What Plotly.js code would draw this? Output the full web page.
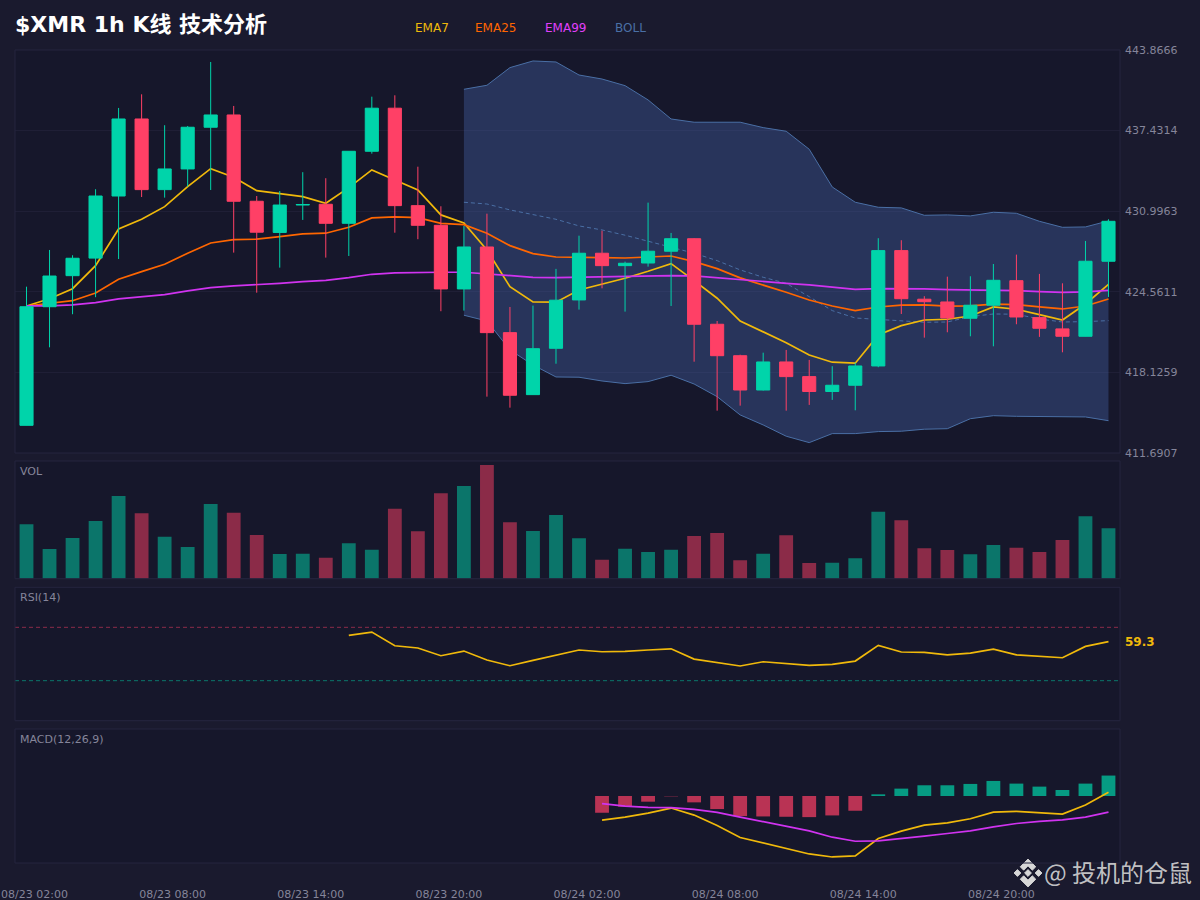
<!DOCTYPE html>
<html>
<head>
<meta charset="utf-8">
<script src="https://cdn.plot.ly/plotly-3.0.1.min.js"></script>
<style>
  html, body { margin: 0; padding: 0; background: #1a1a2e; }
  #chart { width: 1200px; height: 900px; }
</style>
</head>
<body>
<div id="chart"></div>
<script>
/* ── data ── */

const TIME_TICKS = [0, 6, 12, 18, 24, 30, 36, 42];
const TIME_LABELS = ['08/23 02:00', '08/23 08:00', '08/23 14:00', '08/23 20:00',
                     '08/24 02:00', '08/24 08:00', '08/24 14:00', '08/24 20:00'];
const PRICE_TICKS = [443.8666, 437.4314, 430.9963, 424.5611, 418.1259, 411.6907];

const opens = [413.90, 423.37, 425.85, 427.25, 432.21, 438.36, 432.72, 434.37, 437.70, 438.68, 431.79, 429.30,
               431.49, 431.55, 430.03, 435.78, 439.22, 431.44, 429.87, 424.79, 428.14, 421.30, 416.35, 420.05,
               423.91, 427.64, 426.65, 426.86, 427.80, 428.80, 421.97, 419.46, 416.72, 418.96, 417.79, 416.60,
               417.10, 418.64, 427.85, 423.97, 423.75, 422.45, 423.49, 425.45, 422.50, 421.60, 421.01, 427.00];
const highs = [424.97, 427.90, 427.48, 432.75, 439.24, 440.33, 437.86, 437.80, 442.91, 439.40, 432.21, 432.61,
               434.11, 433.63, 435.80, 440.14, 440.25, 434.55, 431.39, 429.82, 430.80, 423.35, 423.46, 426.39,
               429.04, 429.44, 426.97, 431.68, 429.26, 428.85, 422.23, 419.54, 419.70, 419.92, 419.12, 418.62,
               418.90, 428.84, 428.68, 424.21, 425.77, 425.80, 426.78, 427.53, 425.99, 425.24, 428.62, 430.35];
const lows = [413.89, 420.13, 422.77, 424.13, 427.18, 432.13, 432.08, 432.96, 432.69, 427.69, 424.49, 426.49,
              430.30, 427.29, 427.42, 435.59, 429.28, 428.76, 423.01, 423.06, 416.19, 415.31, 416.33, 418.82,
              423.14, 424.84, 422.98, 426.57, 423.43, 418.98, 415.07, 415.47, 416.68, 415.07, 415.53, 415.93,
              415.10, 418.54, 422.79, 420.90, 421.33, 421.01, 420.21, 421.97, 420.96, 419.73, 421.00, 424.15];
const closes = [423.37, 425.82, 427.24, 432.21, 438.36, 432.72, 434.37, 437.70, 438.68, 431.79, 429.32, 431.49,
                431.53, 430.03, 435.78, 439.22, 431.44, 429.87, 424.79, 428.14, 421.30, 416.30, 420.02, 423.89,
                427.64, 426.65, 426.84, 427.80, 428.80, 421.97, 419.46, 416.72, 418.96, 417.79, 416.60, 417.10,
                418.64, 427.85, 424.01, 423.77, 422.47, 423.49, 425.48, 422.55, 421.65, 421.01, 427.00, 430.19];

const ema7 = [423.43, 424.01, 424.81, 426.65, 429.58, 430.35, 431.36, 432.96, 434.39, 433.71, 432.64, 432.40,
              432.16, 431.63, 432.88, 434.29, 433.49, 432.69, 430.70, 430.06, 427.90, 424.97, 423.75, 423.73,
              424.71, 425.19, 425.64, 426.20, 426.81, 425.45, 424.05, 422.23, 421.38, 420.50, 419.52, 418.94,
              418.86, 421.12, 421.86, 422.31, 422.37, 422.63, 423.35, 423.17, 422.74, 422.31, 423.59, 425.16];
const ema25 = [423.43, 423.65, 423.85, 424.47, 425.56, 426.17, 426.76, 427.64, 428.46, 428.72, 428.76, 428.96,
               429.18, 429.24, 429.71, 430.46, 430.54, 430.48, 430.03, 429.92, 429.24, 428.25, 427.61, 427.34,
               427.34, 427.29, 427.26, 427.32, 427.42, 426.97, 426.41, 425.67, 425.11, 424.52, 423.91, 423.43,
               423.06, 423.35, 423.49, 423.51, 423.41, 423.43, 423.57, 423.53, 423.35, 423.19, 423.43, 423.99];
const ema99 = [423.43, 423.43, 423.51, 423.69, 423.99, 424.15, 424.33, 424.63, 424.89, 425.03, 425.11, 425.24,
               425.37, 425.48, 425.69, 425.96, 426.07, 426.12, 426.12, 426.12, 425.99, 425.83, 425.72, 425.69,
               425.72, 425.75, 425.75, 425.83, 425.85, 425.83, 425.67, 425.51, 425.37, 425.24, 425.11, 424.92,
               424.76, 424.81, 424.81, 424.79, 424.73, 424.71, 424.71, 424.65, 424.57, 424.52, 424.55, 424.68];

// bollinger bands start at candle 19
const bollUpper = [440.73, 441.05, 442.46, 442.99, 442.91, 441.87, 441.55, 441.02, 439.88, 438.36, 438.10, 438.12,
                   438.10, 437.67, 437.38, 435.94, 432.93, 431.71, 431.31, 431.26, 430.67, 430.70, 430.62, 430.91,
                   430.83, 430.19, 429.71, 429.74, 430.22];
const bollMid = [431.71, 431.57, 431.10, 430.72, 430.35, 429.82, 429.50, 429.08, 428.60, 428.17, 427.64, 427.05,
                 426.31, 425.72, 425.24, 424.17, 423.06, 422.47, 422.37, 422.26, 422.13, 422.15, 422.58, 422.79,
                 422.77, 422.39, 422.15, 422.18, 422.26];
const bollLower = [422.69, 422.23, 419.92, 418.72, 417.76, 417.74, 417.44, 417.23, 417.39, 417.90, 417.20, 416.19,
                   414.73, 413.93, 413.03, 412.52, 413.24, 413.24, 413.40, 413.43, 413.59, 413.63, 414.43, 414.67,
                   414.62, 414.62, 414.59, 414.57, 414.27];

const volumes = [163, 89, 122, 173, 248, 196, 126, 95, 224, 198, 131, 74,
                 75, 63, 106, 87, 210, 142, 256, 278, 341, 169, 143, 191,
                 121, 57, 90, 80, 87, 128, 137, 55, 75, 130, 47, 48,
                 61, 201, 175, 91, 86, 73, 101, 93, 80, 116, 187, 151];

// rsi starts at candle 14
const rsi = [63.9, 66.4, 56.2, 54.5, 48.7, 52.2, 45.5, 41.2, 45.2, 49.2, 53.0, 51.7,
             52.0, 53.0, 53.9, 46.2, 43.7, 41.0, 44.2, 43.0, 41.5, 42.2, 44.7, 56.5,
             51.5, 51.2, 49.4, 50.7, 53.7, 49.4, 48.2, 47.2, 55.7, 59.3];
const RSI_LEVELS = [70, 30];

// macd starts at candle 25
const macdHist = [-0.50, -0.32, -0.17, -0.01, -0.19, -0.39, -0.60, -0.61, -0.62, -0.63, -0.58, -0.44,
                  0.05, 0.22, 0.32, 0.32, 0.36, 0.45, 0.37, 0.28, 0.18, 0.37, 0.61];
const macdLine = [-0.72, -0.63, -0.51, -0.36, -0.57, -0.88, -1.24, -1.40, -1.56, -1.73, -1.82, -1.79,
                  -1.27, -1.05, -0.87, -0.80, -0.68, -0.48, -0.46, -0.49, -0.54, -0.27, 0.11];
const macdSignal = [-0.23, -0.30, -0.34, -0.35, -0.40, -0.49, -0.63, -0.76, -0.90, -1.04, -1.23, -1.35,
                    -1.34, -1.28, -1.20, -1.12, -1.04, -0.92, -0.82, -0.76, -0.71, -0.63, -0.48];

/* ── style ── */

const BG = '#1a1a2e';
const PANEL_BG = '#16172b';
const BORDER = '#25253f';
const GRID = '#1f1f36';
const TEXT = '#85859a';
const UP = '#00d4aa';
const DOWN = '#ff4066';
const YELLOW = '#f0b90b';
const ORANGE = '#ff6600';
const PURPLE = '#d033f0';
const BOLL = '#4a6fa5';
const FONT = '"DejaVu Sans", "Noto Sans CJK SC", sans-serif';

const LOGO_SVG = '<svg xmlns="http://www.w3.org/2000/svg" viewBox="0 0 100 100" fill="#d7d7d7" stroke="#d7d7d7" stroke-width="3">' +
  '<polygon points="50,5 75,30 64,41 50,27 36,41 25,30"/>' +
  '<polygon points="50,95 75,70 64,59 50,73 36,59 25,70"/>' +
  '<polygon points="5,50 16,39 27,50 16,61"/>' +
  '<polygon points="95,50 84,39 73,50 84,61"/>' +
  '<polygon points="50,39 61,50 50,61 39,50"/></svg>';

// panel edges in page pixels -> fraction of the 813px plot area (y 50..863)
function yDomain(top, bottom) {
  return [(863 - bottom) / 813, (863 - top) / 813];
}

const idx = opens.map((_, i) => i);
const isUp = opens.map((o, i) => closes[i] >= o);

const lineTrace = (x, y, color, yaxis = 'y', width = 1.7, dash = 'solid') => ({
  type: 'scatter', mode: 'lines', x, y, yaxis, hoverinfo: 'skip',
  line: { color, width, dash },
});

const bollX = idx.slice(19);
const rsiX = idx.slice(14);
const macdX = idx.slice(25);

const traces = [
  lineTrace(bollX, bollUpper, BOLL, 'y', 1),
  Object.assign(lineTrace(bollX, bollLower, BOLL, 'y', 1), {
    fill: 'tonexty', fillcolor: 'rgba(72,100,170,0.38)',
  }),
  lineTrace(bollX, bollMid, BOLL, 'y', 1, '4px,3px'),
  lineTrace(idx, ema7, YELLOW),
  lineTrace(idx, ema25, ORANGE),
  lineTrace(idx, ema99, PURPLE),
  {
    type: 'candlestick', x: idx, open: opens, high: highs, low: lows, close: closes,
    yaxis: 'y5', hoverinfo: 'skip',
    increasing: { line: { color: UP, width: 1 }, fillcolor: UP },
    decreasing: { line: { color: DOWN, width: 1 }, fillcolor: DOWN },
  },
  {
    type: 'bar', x: idx, y: volumes, yaxis: 'y2', width: 0.6,
    marker: { color: isUp.map(u => u ? UP : DOWN), opacity: 0.5, line: { width: 0 } },
    hoverinfo: 'skip',
  },
  lineTrace(rsiX, rsi, YELLOW, 'y3'),
  {
    type: 'bar', x: macdX, y: macdHist, yaxis: 'y4', width: 0.6,
    marker: { color: macdHist.map(v => v >= 0 ? UP : DOWN), opacity: 0.7, line: { width: 0 } },
    hoverinfo: 'skip',
  },
  lineTrace(macdX, macdLine, YELLOW, 'y4'),
  lineTrace(macdX, macdSignal, PURPLE, 'y4'),
];

const panelBorder = yref => ({
  type: 'rect', xref: 'x domain', yref: yref + ' domain', x0: 0, x1: 1, y0: 0, y1: 1,
  line: { color: BORDER, width: 1 }, layer: 'above',
});

const rsiLevel = (level, color) => ({
  type: 'line', xref: 'x domain', x0: 0, x1: 1, yref: 'y3', y0: level, y1: level,
  line: { color, width: 1, dash: '4px,3px' }, opacity: 0.5, layer: 'below',
});

const panelLabel = (text, yref) => ({
  text, xref: 'x domain', yref: yref + ' domain', x: 0, y: 1, xshift: 3, yshift: -10,
  xanchor: 'left', yanchor: 'middle', showarrow: false,
  font: { size: 11, color: TEXT },
});

const legendLabel = (text, x, color) => ({
  text, xref: 'paper', yref: 'paper', x: (x - 15) / 1105, y: (863 - 28) / 813,
  xanchor: 'left', yanchor: 'middle', showarrow: false,
  font: { size: 12, color },
});

const hiddenY = { showgrid: false, zeroline: false, showticklabels: false, ticks: '' };
const priceRange = [PRICE_TICKS[5], PRICE_TICKS[0]];

const layout = {
  width: 1200, height: 900,
  paper_bgcolor: BG,
  plot_bgcolor: PANEL_BG,
  margin: { t: 50, b: 37, l: 15, r: 80, pad: 0 },
  font: { family: FONT, color: TEXT, size: 11 },
  showlegend: false,
  boxgap: 0.43,
  boxgroupgap: 0,
  barmode: 'overlay',
  title: {
    text: '<b>$XMR 1h K线 技术分析</b>',
    x: 0, xanchor: 'left', xref: 'paper',
    y: 1 - 24 / 900, yanchor: 'middle',
    font: { size: 22, color: '#ffffff', family: FONT },
  },
  xaxis: {
    anchor: 'y4', domain: [0, 1], range: [-0.5, 47.5],
    rangeslider: { visible: false },
    showgrid: false, zeroline: false, showline: false, ticks: '',
    tickvals: TIME_TICKS, ticktext: TIME_LABELS,
    tickangle: 0,
    ticklabelstandoff: 23, ticklabelshift: 8,
    tickfont: { size: 11, color: TEXT },
  },
  yaxis: {
    domain: yDomain(50, 453), range: priceRange, side: 'right',
    tickvals: PRICE_TICKS, tickformat: '.4f',
    gridcolor: GRID, gridwidth: 1, zeroline: false, ticks: '',
    ticklabelstandoff: 4,
    tickfont: { size: 11, color: TEXT },
  },
  yaxis5: Object.assign({ overlaying: 'y', range: priceRange, side: 'right' }, hiddenY),
  yaxis2: Object.assign({ domain: yDomain(461, 578.7), range: [0, 353] }, hiddenY),
  yaxis3: Object.assign({ domain: yDomain(587.3, 720.7), range: [0, 100] }, hiddenY),
  yaxis4: Object.assign({ domain: yDomain(729, 863), range: [-2, 2] }, hiddenY),
  shapes: [
    rsiLevel(RSI_LEVELS[0], DOWN),
    rsiLevel(RSI_LEVELS[1], UP),
    panelBorder('y'), panelBorder('y2'), panelBorder('y3'), panelBorder('y4'),
  ],
  images: [{
    source: 'data:image/svg+xml;charset=utf-8,' + encodeURIComponent(LOGO_SVG),
    xref: 'paper', yref: 'paper', x: (1028 - 15) / 1105, y: (863 - 873) / 813,
    sizex: 31 / 1105, sizey: 31 / 813, xanchor: 'center', yanchor: 'middle',
    sizing: 'stretch', layer: 'above',
  }],
  annotations: [
    legendLabel('EMA7', 413, YELLOW),
    legendLabel('EMA25', 473, ORANGE),
    legendLabel('EMA99', 543, '#e040fb'),
    legendLabel('BOLL', 613, BOLL),
    panelLabel('VOL', 'y2'),
    panelLabel('RSI(14)', 'y3'),
    panelLabel('MACD(12,26,9)', 'y4'),
    {
      text: '<b>' + rsi[rsi.length - 1].toFixed(1) + '</b>',
      xref: 'x domain', yref: 'y3', x: 1, y: rsi[rsi.length - 1], xshift: 3,
      xanchor: 'left', yanchor: 'middle', showarrow: false,
      font: { size: 12, color: YELLOW },
    },
    {
      text: '@ 投机的仓鼠',
      xref: 'paper', yref: 'paper', x: (1194 - 15) / 1105, y: (863 - 871) / 813,
      xanchor: 'right', yanchor: 'middle', showarrow: false,
      font: { size: 24, color: 'rgba(215,215,215,0.9)', family: '"Noto Sans CJK SC", sans-serif' },
    },
  ],
};

Plotly.newPlot('chart', traces, layout, { staticPlot: true, displayModeBar: false });
</script>
</body>
</html>
